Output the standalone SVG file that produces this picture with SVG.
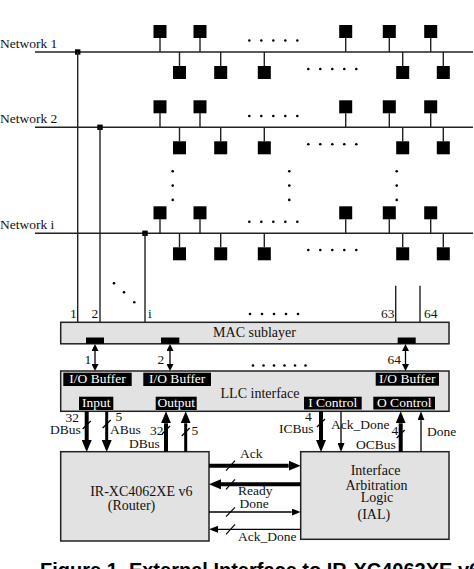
<svg xmlns="http://www.w3.org/2000/svg" xmlns:xlink="http://www.w3.org/1999/xlink" width="474" height="569" viewBox="0 0 474 569">
<style>
.ln{stroke:#222;stroke-width:1.4;fill:none}
.sq{fill:#000}
.t{font-family:"Liberation Serif","Times New Roman",serif;font-size:13.5px;fill:#111}
.tb{font-family:"Liberation Serif","Times New Roman",serif;font-size:14px;fill:#111}
.w{font-family:"Liberation Serif","Times New Roman",serif;font-size:13.5px;fill:#fff;text-anchor:middle}
.box{fill:#e2e2e2;stroke:#222;stroke-width:1.5}
.lab{fill:#000}
.dot{fill:#000}
.thick{stroke:#000;stroke-width:4;fill:none}
.mid{stroke:#000;stroke-width:3;fill:none}
.thin{stroke:#000;stroke-width:1.3;fill:none}
.tick{stroke:#000;stroke-width:1.2}
.cap{font-family:"Liberation Sans",Arial,sans-serif;font-size:20px;font-weight:bold;fill:#000}
</style>
<defs>
<g id="stTop"><line class="ln" x1="0" y1="-14" x2="0" y2="0"/><rect class="sq" x="-6.5" y="-27" width="13" height="13"/></g>
<g id="stBot"><line class="ln" x1="0" y1="0" x2="0" y2="14"/><rect class="sq" x="-6.5" y="14" width="13" height="13"/></g>
<g id="dots5h"><circle class="dot" cx="0" cy="0" r="1.3"/><circle class="dot" cx="12" cy="0" r="1.3"/><circle class="dot" cx="24" cy="0" r="1.3"/><circle class="dot" cx="36" cy="0" r="1.3"/><circle class="dot" cx="48" cy="0" r="1.3"/></g>
<g id="dots3v"><circle class="dot" cx="0" cy="0" r="1.3"/><circle class="dot" cx="0" cy="14.3" r="1.3"/><circle class="dot" cx="0" cy="28.6" r="1.3"/></g>
<marker id="ahK" markerUnits="userSpaceOnUse" markerWidth="12" markerHeight="10" refX="0" refY="5" orient="auto"><path d="M0,0 L12,5 L0,10 z" fill="#000"/></marker>
<marker id="ahT" markerUnits="userSpaceOnUse" markerWidth="9" markerHeight="7" refX="0" refY="3.5" orient="auto"><path d="M0,0 L9,3.5 L0,7 z" fill="#000"/></marker>
<marker id="ahD" markerUnits="userSpaceOnUse" markerWidth="7" markerHeight="7" refX="0" refY="3.5" orient="auto-start-reverse"><path d="M0,0 L7,3.5 L0,7 z" fill="#000"/></marker>
</defs>

<g id="network1">
<line class="ln" x1="35" y1="52" x2="473" y2="52"/>
<text class="t" x="0" y="48">Network 1</text>
<use xlink:href="#stTop" x="160" y="52"/><use xlink:href="#stTop" x="200" y="52"/><use xlink:href="#stTop" x="345.7" y="52"/><use xlink:href="#stTop" x="389.3" y="52"/><use xlink:href="#stTop" x="430.7" y="52"/>
<use xlink:href="#stBot" x="179.5" y="52"/><use xlink:href="#stBot" x="220.7" y="52"/><use xlink:href="#stBot" x="264.3" y="52"/><use xlink:href="#stBot" x="402.7" y="52"/><use xlink:href="#stBot" x="443.3" y="52"/>
<use xlink:href="#dots5h" x="249.3" y="40.5"/><use xlink:href="#dots5h" x="308.3" y="69"/>
</g>

<g id="network2">
<line class="ln" x1="35" y1="127.3" x2="473" y2="127.3"/>
<text class="t" x="0" y="123">Network 2</text>
<use xlink:href="#stTop" x="160" y="127.3"/><use xlink:href="#stTop" x="200" y="127.3"/><use xlink:href="#stTop" x="345.7" y="127.3"/><use xlink:href="#stTop" x="389.3" y="127.3"/><use xlink:href="#stTop" x="430.7" y="127.3"/>
<use xlink:href="#stBot" x="179.5" y="127.3"/><use xlink:href="#stBot" x="220.7" y="127.3"/><use xlink:href="#stBot" x="264.3" y="127.3"/><use xlink:href="#stBot" x="402.7" y="127.3"/><use xlink:href="#stBot" x="443.3" y="127.3"/>
<use xlink:href="#dots5h" x="249.3" y="116"/><use xlink:href="#dots5h" x="308.3" y="144.3"/>
</g>

<g id="vdots">
<use xlink:href="#dots3v" x="172.7" y="171.3"/><use xlink:href="#dots3v" x="289.3" y="171.3"/><use xlink:href="#dots3v" x="396.7" y="171.3"/>
</g>

<g id="networki">
<line class="ln" x1="35" y1="233.3" x2="473" y2="233.3"/>
<text class="t" x="0" y="229">Network i</text>
<use xlink:href="#stTop" x="160" y="233.3"/><use xlink:href="#stTop" x="200" y="233.3"/><use xlink:href="#stTop" x="345.7" y="233.3"/><use xlink:href="#stTop" x="389.3" y="233.3"/><use xlink:href="#stTop" x="430.7" y="233.3"/>
<use xlink:href="#stBot" x="179.5" y="233.3"/><use xlink:href="#stBot" x="220.7" y="233.3"/><use xlink:href="#stBot" x="264.3" y="233.3"/><use xlink:href="#stBot" x="402.7" y="233.3"/><use xlink:href="#stBot" x="443.3" y="233.3"/>
<use xlink:href="#dots5h" x="249.3" y="221.7"/><use xlink:href="#dots5h" x="308.3" y="250"/>
</g>

<g id="mac">
<rect class="box" x="60.7" y="322.3" width="388.3" height="21.5"/>
<text class="tb" x="254.5" y="336.7" text-anchor="middle">MAC sublayer</text>
<rect class="lab" x="86" y="337.5" width="18" height="6.3"/>
<rect class="lab" x="161" y="337.5" width="18.3" height="6.3"/>
<rect class="lab" x="397.7" y="337.5" width="18" height="6.3"/>
</g>

<g id="llc">
<rect class="box" x="60.7" y="371" width="388.3" height="40.3"/>
<text class="tb" x="260" y="397.7" text-anchor="middle">LLC interface</text>
<rect class="lab" x="63.3" y="372.7" width="68.4" height="13.3"/><text class="w" x="97.5" y="383.3">I/O Buffer</text>
<rect class="lab" x="143.3" y="372.7" width="67.7" height="13.3"/><text class="w" x="177.2" y="383.3">I/O Buffer</text>
<rect class="lab" x="375.7" y="372.7" width="63.3" height="13"/><text class="w" x="407.3" y="383.3">I/O Buffer</text>
<rect class="lab" x="79" y="396.7" width="34.3" height="13.3"/><text class="w" x="96.2" y="407.3">Input</text>
<rect class="lab" x="155.7" y="396.7" width="41" height="13.3"/><text class="w" x="176.2" y="407.3">Output</text>
<rect class="lab" x="304" y="396.7" width="57.7" height="12.8"/><text class="w" x="332.8" y="407.3">I Control</text>
<rect class="lab" x="373.3" y="396.7" width="61.7" height="12.8"/><text class="w" x="404.2" y="407.3">O Control</text>
</g>

<g id="router">
<rect class="box" x="60.7" y="451.7" width="148.3" height="89.3"/>
<text class="tb" x="141.3" y="496" text-anchor="middle">IR-XC4062XE v6</text>
<text class="tb" x="131.5" y="510" text-anchor="middle">(Router)</text>
</g>
<g id="ial">
<rect class="box" x="300.7" y="451.7" width="148.3" height="87.6"/>
<text class="tb" x="375.5" y="475" text-anchor="middle">Interface</text>
<text class="tb" x="376.5" y="490" text-anchor="middle">Arbitration</text>
<text class="tb" x="377" y="501.7" text-anchor="middle">Logic</text>
<text class="tb" x="373.8" y="519.3" text-anchor="middle">(IAL)</text>
</g>

<g id="connectors">
<rect class="sq" x="75" y="49.3" width="5.4" height="5.4"/>
<rect class="sq" x="97.3" y="124.6" width="5.4" height="5.4"/>
<rect class="sq" x="142.3" y="230.6" width="5.4" height="5.4"/>
<line class="ln" x1="77.7" y1="52" x2="77.7" y2="322.3"/>
<line class="ln" x1="100" y1="127.3" x2="100" y2="322.3"/>
<line class="ln" x1="145" y1="233.3" x2="145" y2="322.3"/>
<line class="ln" x1="395.7" y1="285.7" x2="395.7" y2="322.3"/>
<line class="ln" x1="420" y1="285.7" x2="420" y2="322.3"/>
<circle class="dot" cx="114" cy="283.3" r="1.3"/><circle class="dot" cx="124" cy="292.3" r="1.3"/><circle class="dot" cx="134.3" cy="302.3" r="1.3"/>
<text class="t" x="70" y="318">1</text>
<text class="t" x="91.5" y="318">2</text>
<text class="t" x="148" y="318">i</text>
<text class="t" x="381" y="318">63</text>
<text class="t" x="424" y="318">64</text>
<use xlink:href="#dots5h" x="250" y="314"/>

<line class="thin" x1="95" y1="351" x2="95" y2="364" marker-start="url(#ahD)" marker-end="url(#ahD)"/>
<line class="thin" x1="170" y1="351" x2="170" y2="364" marker-start="url(#ahD)" marker-end="url(#ahD)"/>
<line class="thin" x1="405.5" y1="351" x2="405.5" y2="364" marker-start="url(#ahD)" marker-end="url(#ahD)"/>
<text class="t" x="84.5" y="364">1</text>
<text class="t" x="157.5" y="364">2</text>
<text class="t" x="387.5" y="364">64</text>
<circle class="dot" cx="253" cy="365.5" r="1.3"/><circle class="dot" cx="263.5" cy="365.5" r="1.3"/><circle class="dot" cx="274" cy="365.5" r="1.3"/><circle class="dot" cx="284.5" cy="365.5" r="1.3"/><circle class="dot" cx="295" cy="365.5" r="1.3"/><circle class="dot" cx="305.5" cy="365.5" r="1.3"/>

<line class="thick" x1="86.7" y1="411.3" x2="86.7" y2="440" marker-end="url(#ahK)"/>
<line class="mid" x1="106.7" y1="411.3" x2="106.7" y2="440" marker-end="url(#ahK)"/>
<line class="thick" x1="166" y1="451.7" x2="166" y2="423.3" marker-end="url(#ahK)"/>
<line class="mid" x1="185.7" y1="451.7" x2="185.7" y2="423.3" marker-end="url(#ahK)"/>
<line class="thick" x1="321" y1="411.3" x2="321" y2="440" marker-end="url(#ahK)"/>
<line class="thin" x1="341" y1="411.3" x2="341" y2="443" marker-end="url(#ahT)"/>
<line class="thick" x1="400.7" y1="451.7" x2="400.7" y2="423.3" marker-end="url(#ahK)"/>
<line class="thin" x1="421" y1="451.7" x2="421" y2="420.3" marker-end="url(#ahT)"/>
<line class="tick" x1="82.7" y1="429" x2="90.7" y2="421"/>
<line class="tick" x1="102.7" y1="428" x2="110.7" y2="420"/>
<line class="tick" x1="162" y1="434" x2="170" y2="426"/>
<line class="tick" x1="181.7" y1="436" x2="189.7" y2="428"/>
<line class="tick" x1="317" y1="427" x2="325" y2="419"/>
<line class="tick" x1="396.7" y1="438" x2="404.7" y2="430"/>
<text class="t" x="79" y="421.5" text-anchor="end">32</text>
<text class="t" x="50" y="433.5">DBus</text>
<text class="t" x="115.5" y="421">5</text>
<text class="t" x="110" y="433.5">ABus</text>
<text class="t" x="150" y="434.5">32</text>
<text class="t" x="129" y="447.5">DBus</text>
<text class="t" x="191.5" y="434.5">5</text>
<text class="t" x="305" y="420.5">4</text>
<text class="t" x="279" y="432.5">ICBus</text>
<text class="t" x="331" y="428.5">Ack_Done</text>
<text class="t" x="391.5" y="434.5">4</text>
<text class="t" x="356" y="448.5">OCBus</text>
<text class="t" x="427" y="436">Done</text>

<line class="thick" x1="209" y1="465.7" x2="288.7" y2="465.7" marker-end="url(#ahK)"/>
<line class="thick" x1="300.7" y1="484.3" x2="221" y2="484.3" marker-end="url(#ahK)"/>
<line class="thin" x1="209" y1="512" x2="291.7" y2="512" marker-end="url(#ahT)"/>
<line class="thin" x1="300.7" y1="529.3" x2="218" y2="529.3" marker-end="url(#ahT)"/>
<line class="tick" x1="226" y1="470.7" x2="235" y2="460.7"/>
<line class="tick" x1="226" y1="489.3" x2="235" y2="479.3"/>
<line class="tick" x1="226" y1="516.7" x2="235" y2="507.3"/>
<line class="tick" x1="226" y1="534.3" x2="235" y2="524.3"/>
<text class="t" x="240" y="458.3">Ack</text>
<text class="t" x="238" y="495">Ready</text>
<text class="t" x="239.5" y="508.3">Done</text>
<text class="t" x="238" y="541">Ack_Done</text>
</g>

<text class="cap" x="40" y="576.5">Figure 1. External Interface to IR-XC4062XE v6</text>
</svg>
